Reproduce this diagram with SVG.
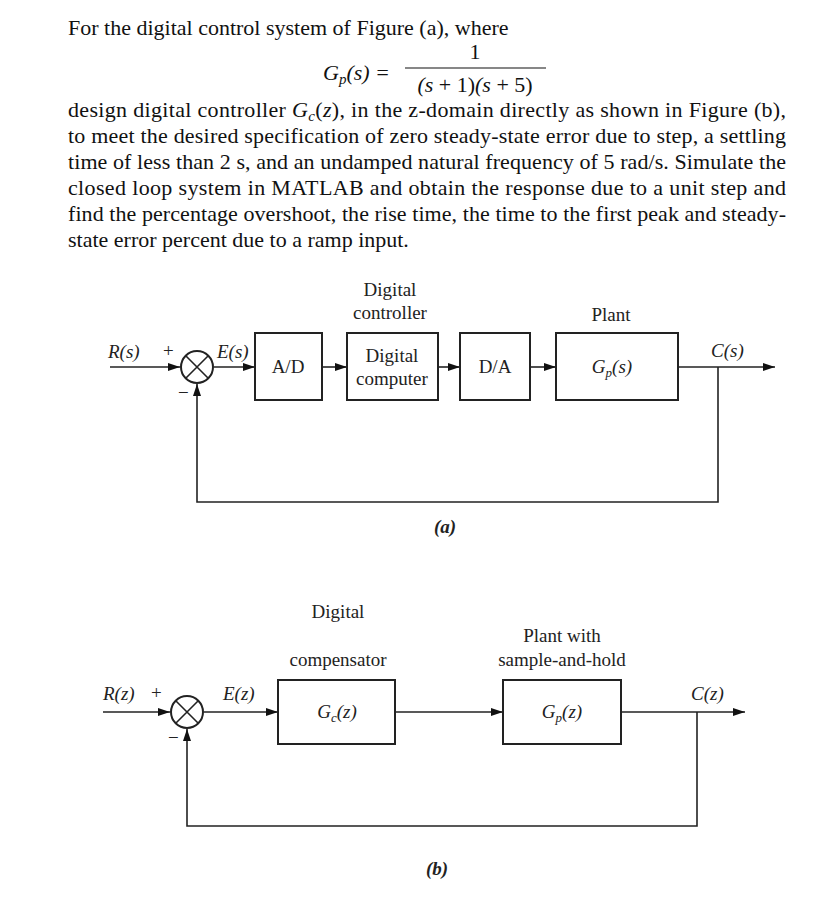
<svg xmlns="http://www.w3.org/2000/svg" width="820" height="923" viewBox="0 0 820 923">
<defs>
<marker id="ar" markerWidth="12" markerHeight="8" refX="12" refY="4" orient="auto" markerUnits="userSpaceOnUse"><path d="M0,0 L12,4 L0,8 z" fill="#111"/></marker>
<style>
.t{font-family:"Liberation Serif",serif;font-size:22px;fill:#111}
.d{font-family:"Liberation Serif",serif;font-size:19px;fill:#222}
.i{font-style:italic}
.b{fill:#fff;stroke:#222;stroke-width:2}
.l{fill:none;stroke:#222;stroke-width:1.6}
</style>
</defs>
<rect width="820" height="923" fill="#fff"/>
<g id="problem">
<text class="t" x="68" y="35">For the digital control system of Figure (a), where</text>
<text class="t i" x="323" y="80">G<tspan font-size="15" dy="4">p</tspan><tspan dy="-4">(s) =</tspan></text>
<line x1="405" y1="68" x2="546" y2="68" stroke="#111" stroke-width="1.2"/>
<text class="t" x="475" y="59" text-anchor="middle">1</text>
<text class="t" x="475" y="92" text-anchor="middle"><tspan class="i">(s</tspan> + 1)<tspan class="i">(s</tspan> + 5)</text>
<text class="t" x="68" y="117" textLength="718" lengthAdjust="spacing">design digital controller <tspan class="i">G</tspan><tspan font-size="15" dy="4" class="i">c</tspan><tspan dy="-4">(<tspan class="i">z</tspan>), in the z-domain directly as shown in Figure (b),</tspan></text>
<text class="t" x="68" y="143" textLength="718" lengthAdjust="spacing">to meet the desired specification of zero steady-state error due to step, a settling</text>
<text class="t" x="68" y="169" textLength="718" lengthAdjust="spacing">time of less than 2 s, and an undamped natural frequency of 5 rad/s. Simulate the</text>
<text class="t" x="68" y="195" textLength="718" lengthAdjust="spacing">closed loop system in MATLAB and obtain the response due to a unit step and</text>
<text class="t" x="68" y="221" textLength="718" lengthAdjust="spacing">find the percentage overshoot, the rise time, the time to the first peak and steady-</text>
<text class="t" x="68" y="247">state error percent due to a ramp input.</text>
</g>
<g id="connectors">
<path class="l" d="M110,367 H180" marker-end="url(#ar)"/>
<path class="l" d="M214,367 H255" marker-end="url(#ar)"/>
<path class="l" d="M322,367 H347" marker-end="url(#ar)"/>
<path class="l" d="M438,367 H460" marker-end="url(#ar)"/>
<path class="l" d="M530,367 H556" marker-end="url(#ar)"/>
<path class="l" d="M678,367 H775" marker-end="url(#ar)"/>
<path class="l" d="M718,367 V502 H197 V384" marker-end="url(#ar)"/>
<path class="l" d="M103,712 H170" marker-end="url(#ar)"/>
<path class="l" d="M204,712 H278" marker-end="url(#ar)"/>
<path class="l" d="M395,712 H503" marker-end="url(#ar)"/>
<path class="l" d="M621,712 H745" marker-end="url(#ar)"/>
<path class="l" d="M697,712 V826 H187 V729" marker-end="url(#ar)"/>
</g>
<g id="sum_a"><circle class="b" cx="197" cy="367" r="16"/><path class="l" d="M186,356 L208,378 M208,356 L186,378"/></g>
<g id="ad"><rect class="b" x="255" y="333" width="67" height="67"/><text class="d" x="288" y="373" text-anchor="middle">A/D</text></g>
<g id="computer"><rect class="b" x="347" y="333" width="91" height="67"/><text class="d" x="392" y="362" text-anchor="middle">Digital</text><text class="d" x="392" y="385" text-anchor="middle">computer</text></g>
<g id="da"><rect class="b" x="460" y="333" width="70" height="67"/><text class="d" x="495" y="373" text-anchor="middle">D/A</text></g>
<g id="plant_a"><rect class="b" x="556" y="333" width="122" height="67"/><text class="d i" x="612" y="373" text-anchor="middle">G<tspan font-size="13" dy="4">p</tspan><tspan dy="-4">(s)</tspan></text></g>
<g id="labels_a">
<text class="d i" x="108" y="358">R(s)</text>
<text class="d" x="163" y="357">+</text>
<text class="d i" x="217" y="358">E(s)</text>
<text class="d" x="178" y="399">−</text>
<text class="d" x="390" y="296" text-anchor="middle">Digital</text>
<text class="d" x="390" y="319" text-anchor="middle">controller</text>
<text class="d" x="611" y="321" text-anchor="middle">Plant</text>
<text class="d i" x="711" y="357">C(s)</text>
<text class="d i" x="445" y="533" text-anchor="middle" font-weight="bold">(a)</text>
</g>
<g id="sum_b"><circle class="b" cx="187" cy="712" r="16"/><path class="l" d="M176,701 L198,723 M198,701 L176,723"/></g>
<g id="comp"><rect class="b" x="278" y="680" width="117" height="64"/><text class="d i" x="337" y="718" text-anchor="middle">G<tspan font-size="13" dy="4">c</tspan><tspan dy="-4">(z)</tspan></text></g>
<g id="plant_b"><rect class="b" x="503" y="680" width="118" height="64"/><text class="d i" x="562" y="718" text-anchor="middle">G<tspan font-size="13" dy="4">p</tspan><tspan dy="-4">(z)</tspan></text></g>
<g id="labels_b">
<text class="d i" x="103" y="700">R(z)</text>
<text class="d" x="151" y="699">+</text>
<text class="d i" x="223" y="700">E(z)</text>
<text class="d" x="168" y="744">−</text>
<text class="d" x="338" y="618" text-anchor="middle">Digital</text>
<text class="d" x="338" y="666" text-anchor="middle">compensator</text>
<text class="d" x="562" y="642" text-anchor="middle">Plant with</text>
<text class="d" x="562" y="666" text-anchor="middle">sample-and-hold</text>
<text class="d i" x="691" y="700">C(z)</text>
<text class="d i" x="437" y="875" text-anchor="middle" font-weight="bold">(b)</text>
</g>
</svg>
